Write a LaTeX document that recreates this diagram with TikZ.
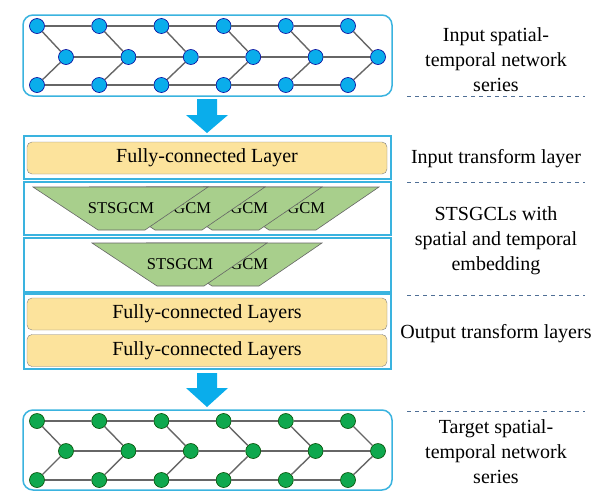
\documentclass[tikz,border=0pt]{standalone}
\usepackage{fontspec}
\setmainfont{Liberation Serif}
\usepackage{xcolor}
\usepackage{tikz}

\definecolor{frameblue}{HTML}{3AB3DF}
\definecolor{nodeblue}{HTML}{0AADEB}
\definecolor{nodegreen}{HTML}{0FA84E}
\definecolor{fcyellow}{HTML}{FCE39C}
\definecolor{gcmgreen}{HTML}{A8CF8C}
\definecolor{dashblue}{HTML}{4F6F96}

\tikzset{
  bnode/.style={draw=blue!60!black, fill=nodeblue, circle, minimum size=15pt, inner sep=0pt, line width=0.6pt},
  gnode/.style={draw=green!30!black, fill=nodegreen, circle, minimum size=15pt, inner sep=0pt, line width=0.6pt},
  link/.style={draw=black!60, line width=1.4pt},
  netbox/.style={draw=frameblue, line width=1.5pt, rounded corners=10pt},
  layerbox/.style={draw=frameblue, line width=1.5pt},
  fcbox/.style={draw=black!50, fill=fcyellow, rounded corners=5pt, minimum width=360pt, minimum height=32pt, font=\fontsize{20}{22}\selectfont},
  gcm/.style={draw=black!60, fill=gcmgreen, line width=0.6pt},
  label/.style={align=center, font=\fontsize{20}{25}\selectfont},
  sepline/.style={draw=dashblue, line width=1pt, dash pattern=on 4pt off 4pt},
  bigarrow/.style={fill=nodeblue}
}

% one STSGCM block, top-left corner at (#1,#2)
\newcommand{\gcmblock}[3]{
  \draw[gcm] (#1,#2) -- ++(175,0) -- ++(-63,43) -- ++(-47,0) -- cycle;
  \node[font=\fontsize{16.5}{18}\selectfont] (#3) at ({#1+88},{#2+21.5}) {STSGCM};
}

\begin{document}
\begin{tikzpicture}[x=1pt, y=-1pt]
  \useasboundingbox (0,0) rectangle (600,499);

  % input network
  \draw[netbox] (23,15) rectangle (392,96);
  \foreach \i in {0,...,5} {
    \node[bnode] (it\i) at ({37+62.2*\i},26) {};
    \node[bnode] (im\i) at ({66+62.4*\i},57) {};
    \node[bnode] (ib\i) at ({37+62.2*\i},85) {};
  }
  \foreach \i [count=\j from 1] in {0,...,4} {
    \draw[link] (it\i) -- (it\j);
    \draw[link] (im\i) -- (im\j);
    \draw[link] (ib\i) -- (ib\j);
  }
  \foreach \i in {0,...,5} {
    \draw[link] (it\i) -- (im\i);
    \draw[link] (ib\i) -- (im\i);
  }

  \fill[bigarrow] (197,99) -- (217,99) -- (217,115) -- (228,115) -- (207,133)
    -- (186,115) -- (197,115) -- cycle;

  % input transform layer
  \draw[layerbox] (24,136) rectangle (391,179);
  \node[fcbox] (fcin) at (207,158) {Fully-connected Layer};

  % STSGCLs
  \draw[layerbox] (24,182) rectangle (391,235);
  \gcmblock{204}{187}{ga4}
  \gcmblock{147}{187}{ga3}
  \gcmblock{90}{187}{ga2}
  \gcmblock{33}{187}{ga1}

  \draw[layerbox] (24,238) rectangle (391,292);
  \gcmblock{147}{243}{gb2}
  \gcmblock{92}{243}{gb1}

  % output transform layers
  \draw[layerbox] (24,294) rectangle (391,369);
  \node[fcbox] (fcout1) at (207,314) {Fully-connected Layers};
  \node[fcbox] (fcout2) at (207,350.5) {Fully-connected Layers};

  \fill[bigarrow] (197,373) -- (217,373) -- (217,388) -- (228,388) -- (207,407)
    -- (186,388) -- (197,388) -- cycle;

  % target network
  \draw[netbox] (23,410) rectangle (392,490);
  \foreach \i in {0,...,5} {
    \node[gnode] (ot\i) at ({37+62.2*\i},421) {};
    \node[gnode] (om\i) at ({66+62.4*\i},451) {};
    \node[gnode] (ob\i) at ({37+62.2*\i},480) {};
  }
  \foreach \i [count=\j from 1] in {0,...,4} {
    \draw[link] (ot\i) -- (ot\j);
    \draw[link] (om\i) -- (om\j);
    \draw[link] (ob\i) -- (ob\j);
  }
  \foreach \i in {0,...,5} {
    \draw[link] (ot\i) -- (om\i);
    \draw[link] (ob\i) -- (om\i);
  }

  % labels on the right
  \node[label] (lin) at (496,60) {Input spatial-\\temporal network\\series};
  \node[label] (ltr) at (496,159) {Input transform layer};
  \node[label] (lst) at (496,241) {STSGCLs with\\spatial and temporal\\embedding};
  \node[label] (lout) at (496,334) {Output transform layers};
  \node[label] (ltg) at (496,452) {Target spatial-\\temporal network\\series};

  \draw[sepline] (407,96) -- (585,96);
  \draw[sepline] (407,182) -- (585,182);
  \draw[sepline] (407,295) -- (585,295);
  \draw[sepline] (407,411) -- (585,411);
\end{tikzpicture}
\end{document}
